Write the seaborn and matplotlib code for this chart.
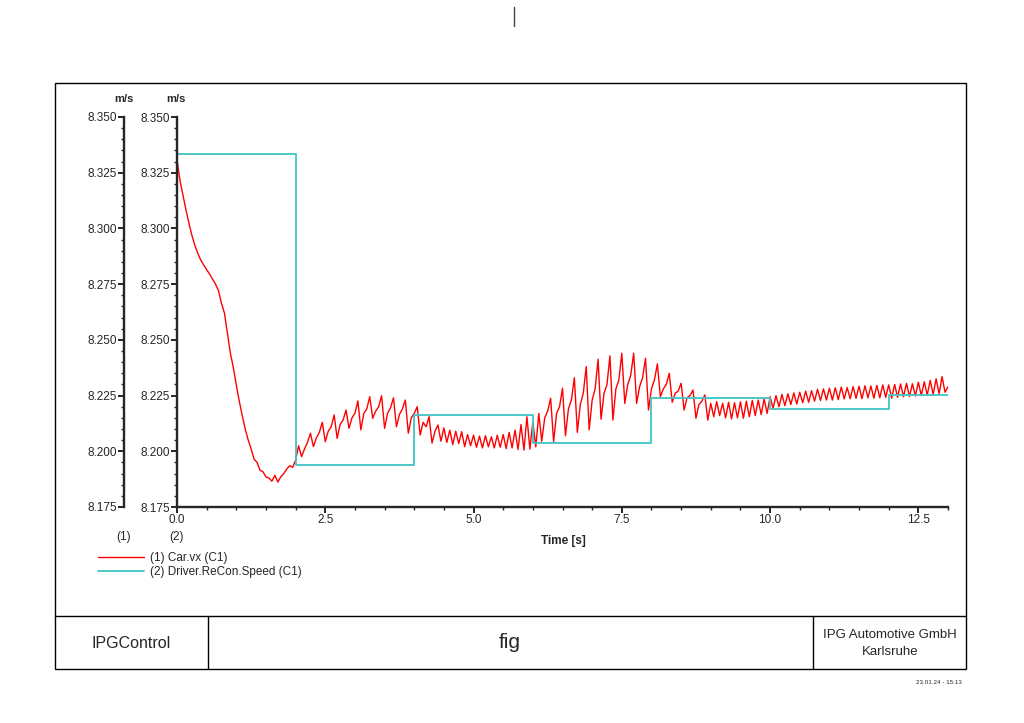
import numpy as np
import pandas as pd
import matplotlib
matplotlib.use("Agg")
import matplotlib.pyplot as plt
from matplotlib.lines import Line2D
from matplotlib.patches import Rectangle
from matplotlib.ticker import MultipleLocator, FormatStrFormatter
import seaborn as sns

t_step = 0.05
vx_0 = [8.3307, 8.3215, 8.3150, 8.3085, 8.3025, 8.2970, 8.2925, 8.2888, 8.2858, 8.2836,
        8.2815, 8.2795, 8.2772, 8.2750, 8.2720, 8.2664, 8.2620, 8.2529, 8.2440, 8.2375]
vx_1 = [8.2297, 8.2225, 8.2160, 8.2100, 8.2051, 8.2010, 8.1965, 8.1950, 8.1915, 8.1908,
        8.1885, 8.1880, 8.1866, 8.1892, 8.1862, 8.1885, 8.1900, 8.1920, 8.1935, 8.1928]
vx_2 = [8.1960, 8.2025, 8.1976, 8.2010, 8.2040, 8.2081, 8.2021, 8.2060, 8.2085, 8.2130,
        8.2043, 8.2090, 8.2110, 8.2163, 8.2058, 8.2120, 8.2140, 8.2185, 8.2103, 8.2150]
vx_3 = [8.2170, 8.2226, 8.2096, 8.2170, 8.2190, 8.2245, 8.2148, 8.2180, 8.2200, 8.2249,
        8.2103, 8.2170, 8.2195, 8.2240, 8.2110, 8.2165, 8.2190, 8.2230, 8.2081, 8.2150]
vx_4 = [8.2170, 8.2200, 8.2073, 8.2130, 8.2110, 8.2155, 8.2037, 8.2090, 8.2118, 8.2045,
        8.2105, 8.2040, 8.2095, 8.2030, 8.2090, 8.2035, 8.2088, 8.2021, 8.2075, 8.2025]
vx_5 = [8.2072, 8.2018, 8.2068, 8.2015, 8.2070, 8.2020, 8.2065, 8.2015, 8.2072, 8.2018,
        8.2075, 8.2012, 8.2085, 8.2015, 8.2095, 8.2008, 8.2120, 8.2005, 8.2155, 8.2010]
vx_6 = [8.2130, 8.2020, 8.2170, 8.2045, 8.2150, 8.2180, 8.2238, 8.2043, 8.2170, 8.2200,
        8.2283, 8.2070, 8.2190, 8.2230, 8.2330, 8.2085, 8.2210, 8.2260, 8.2380, 8.2096]
vx_7 = [8.2230, 8.2280, 8.2413, 8.2144, 8.2260, 8.2300, 8.2428, 8.2140, 8.2280, 8.2320,
        8.2440, 8.2215, 8.2300, 8.2340, 8.2440, 8.2215, 8.2290, 8.2330, 8.2417, 8.2185]
vx_8 = [8.2280, 8.2320, 8.2392, 8.2245, 8.2280, 8.2300, 8.2350, 8.2220, 8.2260, 8.2270,
        8.2305, 8.2185, 8.2240, 8.2250, 8.2275, 8.2148, 8.2210, 8.2225, 8.2253, 8.2140]
vx_9 = [8.2215, 8.2155, 8.2223, 8.2160, 8.2215, 8.2150, 8.2220, 8.2145, 8.2218, 8.2150,
        8.2222, 8.2148, 8.2225, 8.2155, 8.2228, 8.2160, 8.2230, 8.2165, 8.2235, 8.2170]
vx_10 = [8.2245, 8.2193, 8.2250, 8.2200, 8.2255, 8.2205, 8.2258, 8.2210, 8.2262, 8.2212,
         8.2265, 8.2218, 8.2270, 8.2220, 8.2272, 8.2225, 8.2278, 8.2228, 8.2280, 8.2230]
vx_11 = [8.2283, 8.2230, 8.2285, 8.2232, 8.2288, 8.2235, 8.2286, 8.2236, 8.2290, 8.2238,
         8.2292, 8.2236, 8.2294, 8.2240, 8.2293, 8.2238, 8.2296, 8.2240, 8.2298, 8.2242]
vx_12 = [8.2298, 8.2238, 8.2300, 8.2242, 8.2302, 8.2245, 8.2305, 8.2246, 8.2303, 8.2248,
         8.2310, 8.2250, 8.2312, 8.2252, 8.2318, 8.2255, 8.2325, 8.2258, 8.2335, 8.2265,
         8.2290]

# Driver.ReCon.Speed [m/s], Stufen
speed_t = [0.0, 2.0, 4.0, 6.0, 8.0, 10.0, 12.0, 13.0]
speed_v = [8.3334, 8.1938, 8.2163, 8.2037, 8.2239, 8.2188, 8.2253, 8.2253]

x_ticks = [0.0, 2.5, 5.0, 7.5, 10.0, 12.5]
y_ticks = [8.175, 8.200, 8.225, 8.250, 8.275, 8.300, 8.325, 8.350]

car_vx = vx_0 + vx_1 + vx_2 + vx_3 + vx_4 + vx_5 + vx_6 + vx_7 + vx_8 + vx_9 + vx_10 + vx_11 + vx_12
df_vx = pd.DataFrame({"t": np.arange(len(car_vx)) * t_step, "v": car_vx})
df_sp = pd.DataFrame({"t": speed_t, "v": speed_v})

sns.set_style("ticks")
plt.rcParams['font.family'] = ['Liberation Sans', 'DejaVu Sans']

W, H = 1024, 723
fig = plt.figure(figsize=(W / 100, H / 100), dpi=100)

def fx(px):
    return px / W

def fy(py):
    return 1 - py / H

ax = fig.add_axes([fx(177), fy(507), fx(948) - fx(177), fy(117) - fy(507)])
sns.lineplot(data=df_vx, x="t", y="v", ax=ax, color="#ff0000", linewidth=1.0,
             label="(1) Car.vx (C1)")
sns.lineplot(data=df_sp, x="t", y="v", ax=ax, color="#40c4c4", linewidth=1.3,
             drawstyle="steps-post", label="(2) Driver.ReCon.Speed (C1)")

ax.set_xlim(0, 13)
ax.set_ylim(8.175, 8.350)
ax.set_xlabel("")
ax.set_ylabel("")
for s in ["top", "right"]:
    ax.spines[s].set_visible(False)
ax.spines["left"].set_linewidth(1.7)
ax.spines["bottom"].set_linewidth(1.7)
ax.set_xticks(x_ticks)
ax.set_yticks(y_ticks)
ax.xaxis.set_major_formatter(FormatStrFormatter("%.1f"))
ax.yaxis.set_major_formatter(FormatStrFormatter("%.3f"))
ax.xaxis.set_minor_locator(MultipleLocator(0.5))
ax.yaxis.set_minor_locator(MultipleLocator(0.005))
ax.tick_params(which="major", length=4, width=1.4, labelsize=8.5, pad=1)
ax.tick_params(which="minor", length=2.5, width=1.0)
ax.get_legend().remove()

# zweite Achse (1) links daneben
ax1 = ax.secondary_yaxis(-53 / 771)
ax1.set_yticks(y_ticks)
ax1.yaxis.set_major_formatter(FormatStrFormatter("%.3f"))
ax1.yaxis.set_minor_locator(MultipleLocator(0.005))
ax1.spines["left"].set_linewidth(1.7)
ax1.tick_params(which="major", length=4, width=1.4, labelsize=8.5, pad=1)
ax1.tick_params(which="minor", length=2.5, width=1.0)

fig.text(fx(124), fy(99), "m/s", fontsize=8, fontweight="bold", ha="center", va="center")
fig.text(fx(176), fy(99), "m/s", fontsize=8, fontweight="bold", ha="center", va="center")
fig.text(fx(124), fy(537), "(1)", fontsize=8.5, ha="center", va="center")
fig.text(fx(176), fy(537), "(2)", fontsize=8.5, ha="center", va="center")
fig.text(fx(563), fy(541), "Time [s]", fontsize=8.5, fontweight="bold", ha="center", va="center")

handles, labels = ax.get_legend_handles_labels()
fig.legend(handles, labels, loc="upper left", bbox_to_anchor=(fx(98), fy(552)),
           frameon=False, fontsize=8.5, handlelength=3.9, labelspacing=0.2,
           handletextpad=0.5, borderaxespad=0, borderpad=0)

# Rahmen und Schriftfeld
fig.add_artist(Rectangle((fx(55), fy(669)), fx(966) - fx(55), fy(83) - fy(669),
                         transform=fig.transFigure, fill=False, edgecolor="black", linewidth=1.0))
fig.add_artist(Line2D([fx(55), fx(966)], [fy(616), fy(616)], color="black", linewidth=1.0))
fig.add_artist(Line2D([fx(208), fx(208)], [fy(616), fy(669)], color="black", linewidth=1.0))
fig.add_artist(Line2D([fx(813), fx(813)], [fy(616), fy(669)], color="black", linewidth=1.0))
fig.add_artist(Line2D([fx(514), fx(514)], [fy(7), fy(26)], color="#444444", linewidth=1.0))

fig.text(fx(131), fy(643), "IPGControl", fontsize=11.5, ha="center", va="center")
fig.text(fx(510), fy(643), "fig", fontsize=15, ha="center", va="center")
fig.text(fx(890), fy(635), "IPG Automotive GmbH", fontsize=9.5, ha="center", va="center")
fig.text(fx(890), fy(652), "Karlsruhe", fontsize=9.5, ha="center", va="center")
fig.text(fx(962), fy(683), "23.01.24 - 15:13", fontsize=4.5, ha="right", va="center")

fig.savefig("out.png", dpi=100)
